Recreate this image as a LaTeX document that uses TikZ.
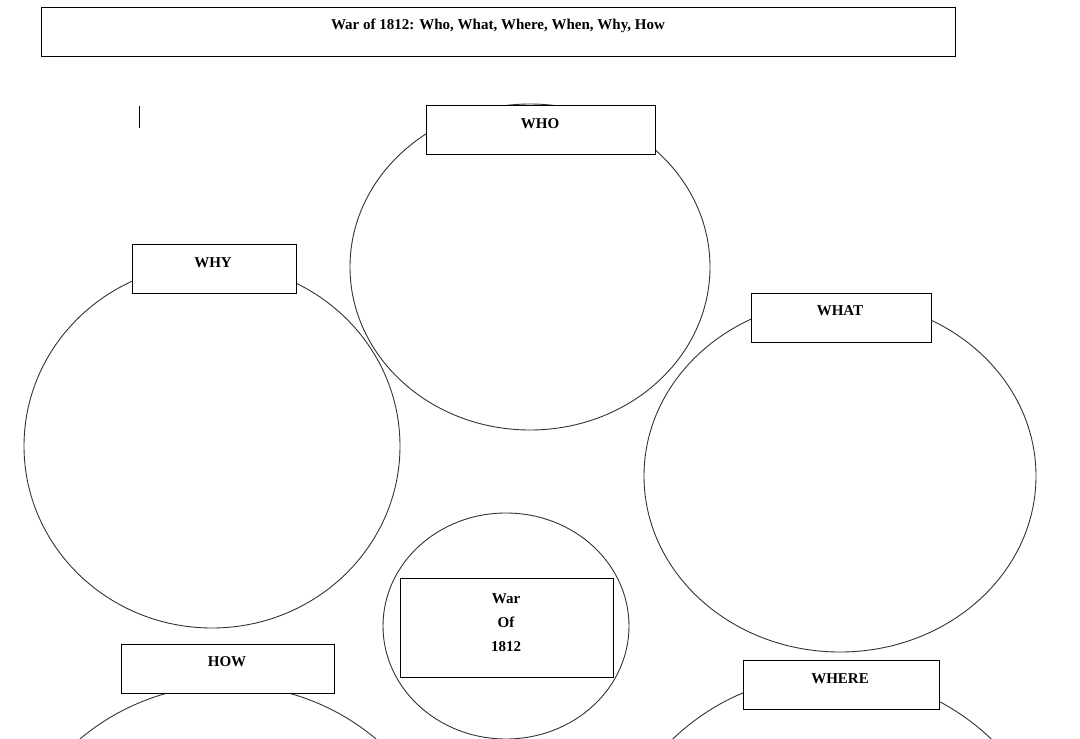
\documentclass[tikz,border=0pt]{standalone}
\usepackage{fontspec}
\setmainfont{Liberation Serif}
\begin{document}
\begin{tikzpicture}[x=1pt,y=-1pt,
  ring/.style={draw=black!80,line width=0.9pt},
  lbl/.style={draw=black,line width=0.9pt,fill=white,anchor=north west,inner sep=0pt},
  txt/.style={font=\bfseries\fontsize{15}{17}\selectfont,align=center}]
\useasboundingbox (0,0) rectangle (1080,739);
\begin{scope}
\clip (0,0) rectangle (1080,739);
\draw[ring] (530,267) ellipse [x radius=180,y radius=163];
\draw[ring] (212,446) ellipse [x radius=188,y radius=182];
\draw[ring] (840,476) ellipse [x radius=196,y radius=176];
\draw[ring] (506,626) ellipse [x radius=123,y radius=113];
\draw[ring] (228,915) circle [radius=230];
\draw[ring] (832,905) circle [radius=230];
\end{scope}
\node[lbl,minimum width=914,minimum height=49] (title) at (41,7) {};
\node[txt] (tt) at (498,26) {War of 1812: Who, What, Where, When, Why, How};
\coordinate (c1) at (139,106); \coordinate (c2) at (139,128);
\draw[line width=0.9pt] (c1) -- (c2);
\node[lbl,minimum width=229,minimum height=49] (bwho) at (426,105) {};
\node[txt] (twho) at (540,124) {WHO};
\node[lbl,minimum width=164,minimum height=49] (bwhy) at (132,244) {};
\node[txt] (twhy) at (213,263) {WHY};
\node[lbl,minimum width=180,minimum height=49] (bwhat) at (751,293) {};
\node[txt] (twhat) at (840,311) {WHAT};
\node[lbl,minimum width=213,minimum height=99] (bwar) at (400,578) {};
\node[txt,font=\bfseries\fontsize{15}{24}\selectfont] (twar) at (506,623) {War\\Of\\1812};
\node[lbl,minimum width=213,minimum height=49] (bhow) at (121,644) {};
\node[txt] (thow) at (227,662) {HOW};
\node[lbl,minimum width=196,minimum height=49] (bwhere) at (743,660) {};
\node[txt] (twhere) at (840,679) {WHERE};
\end{tikzpicture}
\end{document}
